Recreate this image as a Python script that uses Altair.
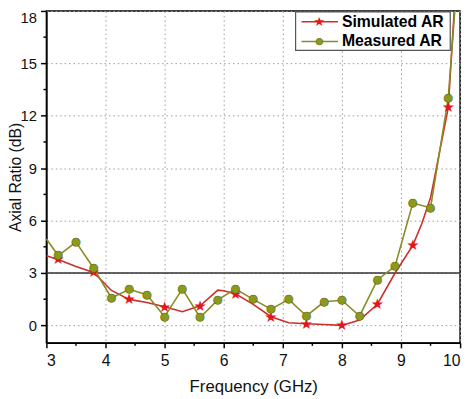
import altair as alt
import pandas as pd

# ---------------- data ----------------
series_names = ["Simulated AR", "Measured AR"]

sim_freq = [3.0, 3.2, 3.5, 3.8, 4.1, 4.4, 4.7, 5.0, 5.3, 5.6, 5.9, 6.0, 6.2, 6.5,
            6.8, 7.1, 7.4, 7.7, 8.0, 8.3, 8.6, 8.9, 9.2, 9.35, 9.5, 9.8, 9.9]
sim_ar = [3.98, 3.77, 3.37, 3.03, 2.0, 1.49, 1.31, 1.07, 0.78, 1.12, 2.02, 1.98, 1.81, 1.2,
          0.5, 0.15, 0.09, 0.05, 0.0, 0.31, 1.21, 3.0, 4.58, 5.8, 7.3, 12.47, 18.0]

sim_star_freq = [3.2, 3.8, 4.4, 5.0, 5.6, 6.2, 6.8, 7.4, 8.0, 8.6, 9.2, 9.8]
sim_star_ar = [3.77, 3.03, 1.49, 1.07, 1.12, 1.81, 0.5, 0.09, 0.0, 1.21, 4.58, 12.47]

meas_freq = [3.0, 3.2, 3.5, 3.8, 4.1, 4.4, 4.7, 5.0, 5.3, 5.6, 5.9, 6.2, 6.5,
             6.8, 7.1, 7.4, 7.7, 8.0, 8.3, 8.6, 8.9, 9.2, 9.5, 9.8, 9.91]
meas_ar = [4.95, 4.0, 4.77, 3.27, 1.57, 2.07, 1.76, 0.5, 2.09, 0.45, 1.46, 2.09, 1.49,
           0.93, 1.49, 0.54, 1.35, 1.44, 0.54, 2.6, 3.4, 7.0, 6.73, 13.03, 18.0]

threshold = [3]

x_major = [3, 4, 5, 6, 7, 8, 9, 10]
x_minor = [3.5, 4.5, 5.5, 6.5, 7.5, 8.5, 9.5]
y_major = [0, 3, 6, 9, 12, 15, 18]
y_minor = [1.5, 4.5, 7.5, 10.5, 13.5, 16.5]

# ---------------- styling ----------------
W, H = 420, 337
SIM_LINE = "#C9302C"
SIM_MARK = "#E3161C"
MEAS_LINE = "#8A8A24"
MEAS_MARK = "#8C9A1C"
FONT = "Liberation Sans"
GLYPH_FONT = "DejaVu Sans"

sim_df = pd.DataFrame({"freq": sim_freq, "ar": sim_ar})
meas_df = pd.DataFrame({"freq": meas_freq, "ar": meas_ar})
star_df = pd.DataFrame({"freq": sim_star_freq, "ar": sim_star_ar})
circ_df = meas_df[(meas_df.freq > 3.05) & (meas_df.freq < 9.85)]
thr_df = pd.DataFrame({"ar": threshold})
xmin_df = pd.DataFrame({"freq": x_minor})
ymin_df = pd.DataFrame({"ar": y_minor})
one_df = pd.DataFrame({"k": [0]})

x_scale = alt.Scale(domain=[3, 10], nice=False, zero=False)
y_scale = alt.Scale(domain=[-1, 18], nice=False, zero=False)

x_axis = alt.Axis(
    values=x_major, tickSize=5,
    labelFontSize=16, labelPadding=5,
    title="Frequency (GHz)", titleFontSize=17, titlePadding=10,
)
y_axis = alt.Axis(
    values=y_major, tickSize=6,
    labelFontSize=15, labelPadding=4, labelFlush=True,
    title="Axial Ratio (dB)", titleFontSize=16, titlePadding=-3,
)

X = alt.X("freq:Q", scale=x_scale, axis=x_axis)
Y = alt.Y("ar:Q", scale=y_scale, axis=y_axis)

rule = alt.Chart(thr_df).mark_rule(color="#333333", strokeWidth=1.5).encode(y=Y)

x_minor_ticks = alt.Chart(xmin_df).mark_rule(color="black", strokeWidth=1.5).encode(
    x=X, y=alt.value(H), y2=alt.value(H + 3))
y_minor_ticks = alt.Chart(ymin_df).mark_rule(color="black", strokeWidth=1.5).encode(
    y=Y, x=alt.value(-3), x2=alt.value(0))

sim_line = alt.Chart(sim_df).mark_line(color=SIM_LINE, strokeWidth=1.6).encode(x=X, y=Y)
meas_line = alt.Chart(meas_df).mark_line(color=MEAS_LINE, strokeWidth=1.6).encode(x=X, y=Y)

stars = alt.Chart(star_df).mark_text(
    text="\u2605", font=GLYPH_FONT, fontSize=15, color=SIM_MARK,
    align="center", baseline="middle"
).encode(x=X, y=Y)
circles = alt.Chart(circ_df).mark_text(
    text="\u25CF", font=GLYPH_FONT, fontSize=11, fill=MEAS_MARK, stroke="#5E6610",
    strokeWidth=0.6, align="center", baseline="middle"
).encode(x=X, y=Y)

# ---- legend (box, line samples, glyphs, labels) ----
LX0, LX1, LY0, LY1 = 253, 410, 1, 40
ROW = [11, 31]
legend_box = alt.Chart(one_df).mark_rect(fill="white", stroke="#555555", strokeWidth=1.2).encode(
    x=alt.value(LX0), x2=alt.value(LX1), y=alt.value(LY0), y2=alt.value(LY1))
leg_sim_line = alt.Chart(one_df).mark_rule(color=SIM_LINE, strokeWidth=1.5).encode(
    x=alt.value(259), x2=alt.value(296), y=alt.value(ROW[0]))
leg_meas_line = alt.Chart(one_df).mark_rule(color=MEAS_LINE, strokeWidth=1.5).encode(
    x=alt.value(259), x2=alt.value(296), y=alt.value(ROW[1]))
leg_star = alt.Chart(one_df).mark_text(
    text="\u2605", font=GLYPH_FONT, fontSize=13, color=SIM_MARK, align="center", baseline="middle"
).encode(x=alt.value(277), y=alt.value(ROW[0]))
leg_circ = alt.Chart(one_df).mark_text(
    text="\u25CF", font=GLYPH_FONT, fontSize=9, fill=MEAS_MARK, stroke="#5E6610", strokeWidth=0.5,
    align="center", baseline="middle"
).encode(x=alt.value(277), y=alt.value(ROW[1]))
leg_sim_txt = alt.Chart(one_df).mark_text(
    text=series_names[0], font=FONT, fontSize=16, fontWeight="bold", color="black",
    align="left", baseline="middle"
).encode(x=alt.value(300), y=alt.value(ROW[0]))
leg_meas_txt = alt.Chart(one_df).mark_text(
    text=series_names[1], font=FONT, fontSize=16, fontWeight="bold", color="black",
    align="left", baseline="middle"
).encode(x=alt.value(300), y=alt.value(ROW[1]))

chart = alt.layer(
    rule, x_minor_ticks, y_minor_ticks, sim_line, meas_line, stars, circles,
    legend_box, leg_sim_line, leg_meas_line, leg_star, leg_circ, leg_sim_txt, leg_meas_txt
).properties(
    width=W, height=H,
    padding={"left": 39, "top": 0, "right": 6, "bottom": 54},
    autosize=alt.AutoSizeParams(type="none"),
).configure_view(
    stroke="black", strokeWidth=1.5
).configure_axis(
    domainColor="black", domainWidth=1.5, tickColor="black", tickWidth=1.5,
    labelFont=FONT, labelColor="#111111", titleFont=FONT, titleFontWeight="normal",
    titleColor="#111111", gridColor="#9a9a9a", gridDash=[1.5, 3], gridWidth=1,
)

chart.save("out.html", embed_options={"renderer": "svg", "actions": False})
